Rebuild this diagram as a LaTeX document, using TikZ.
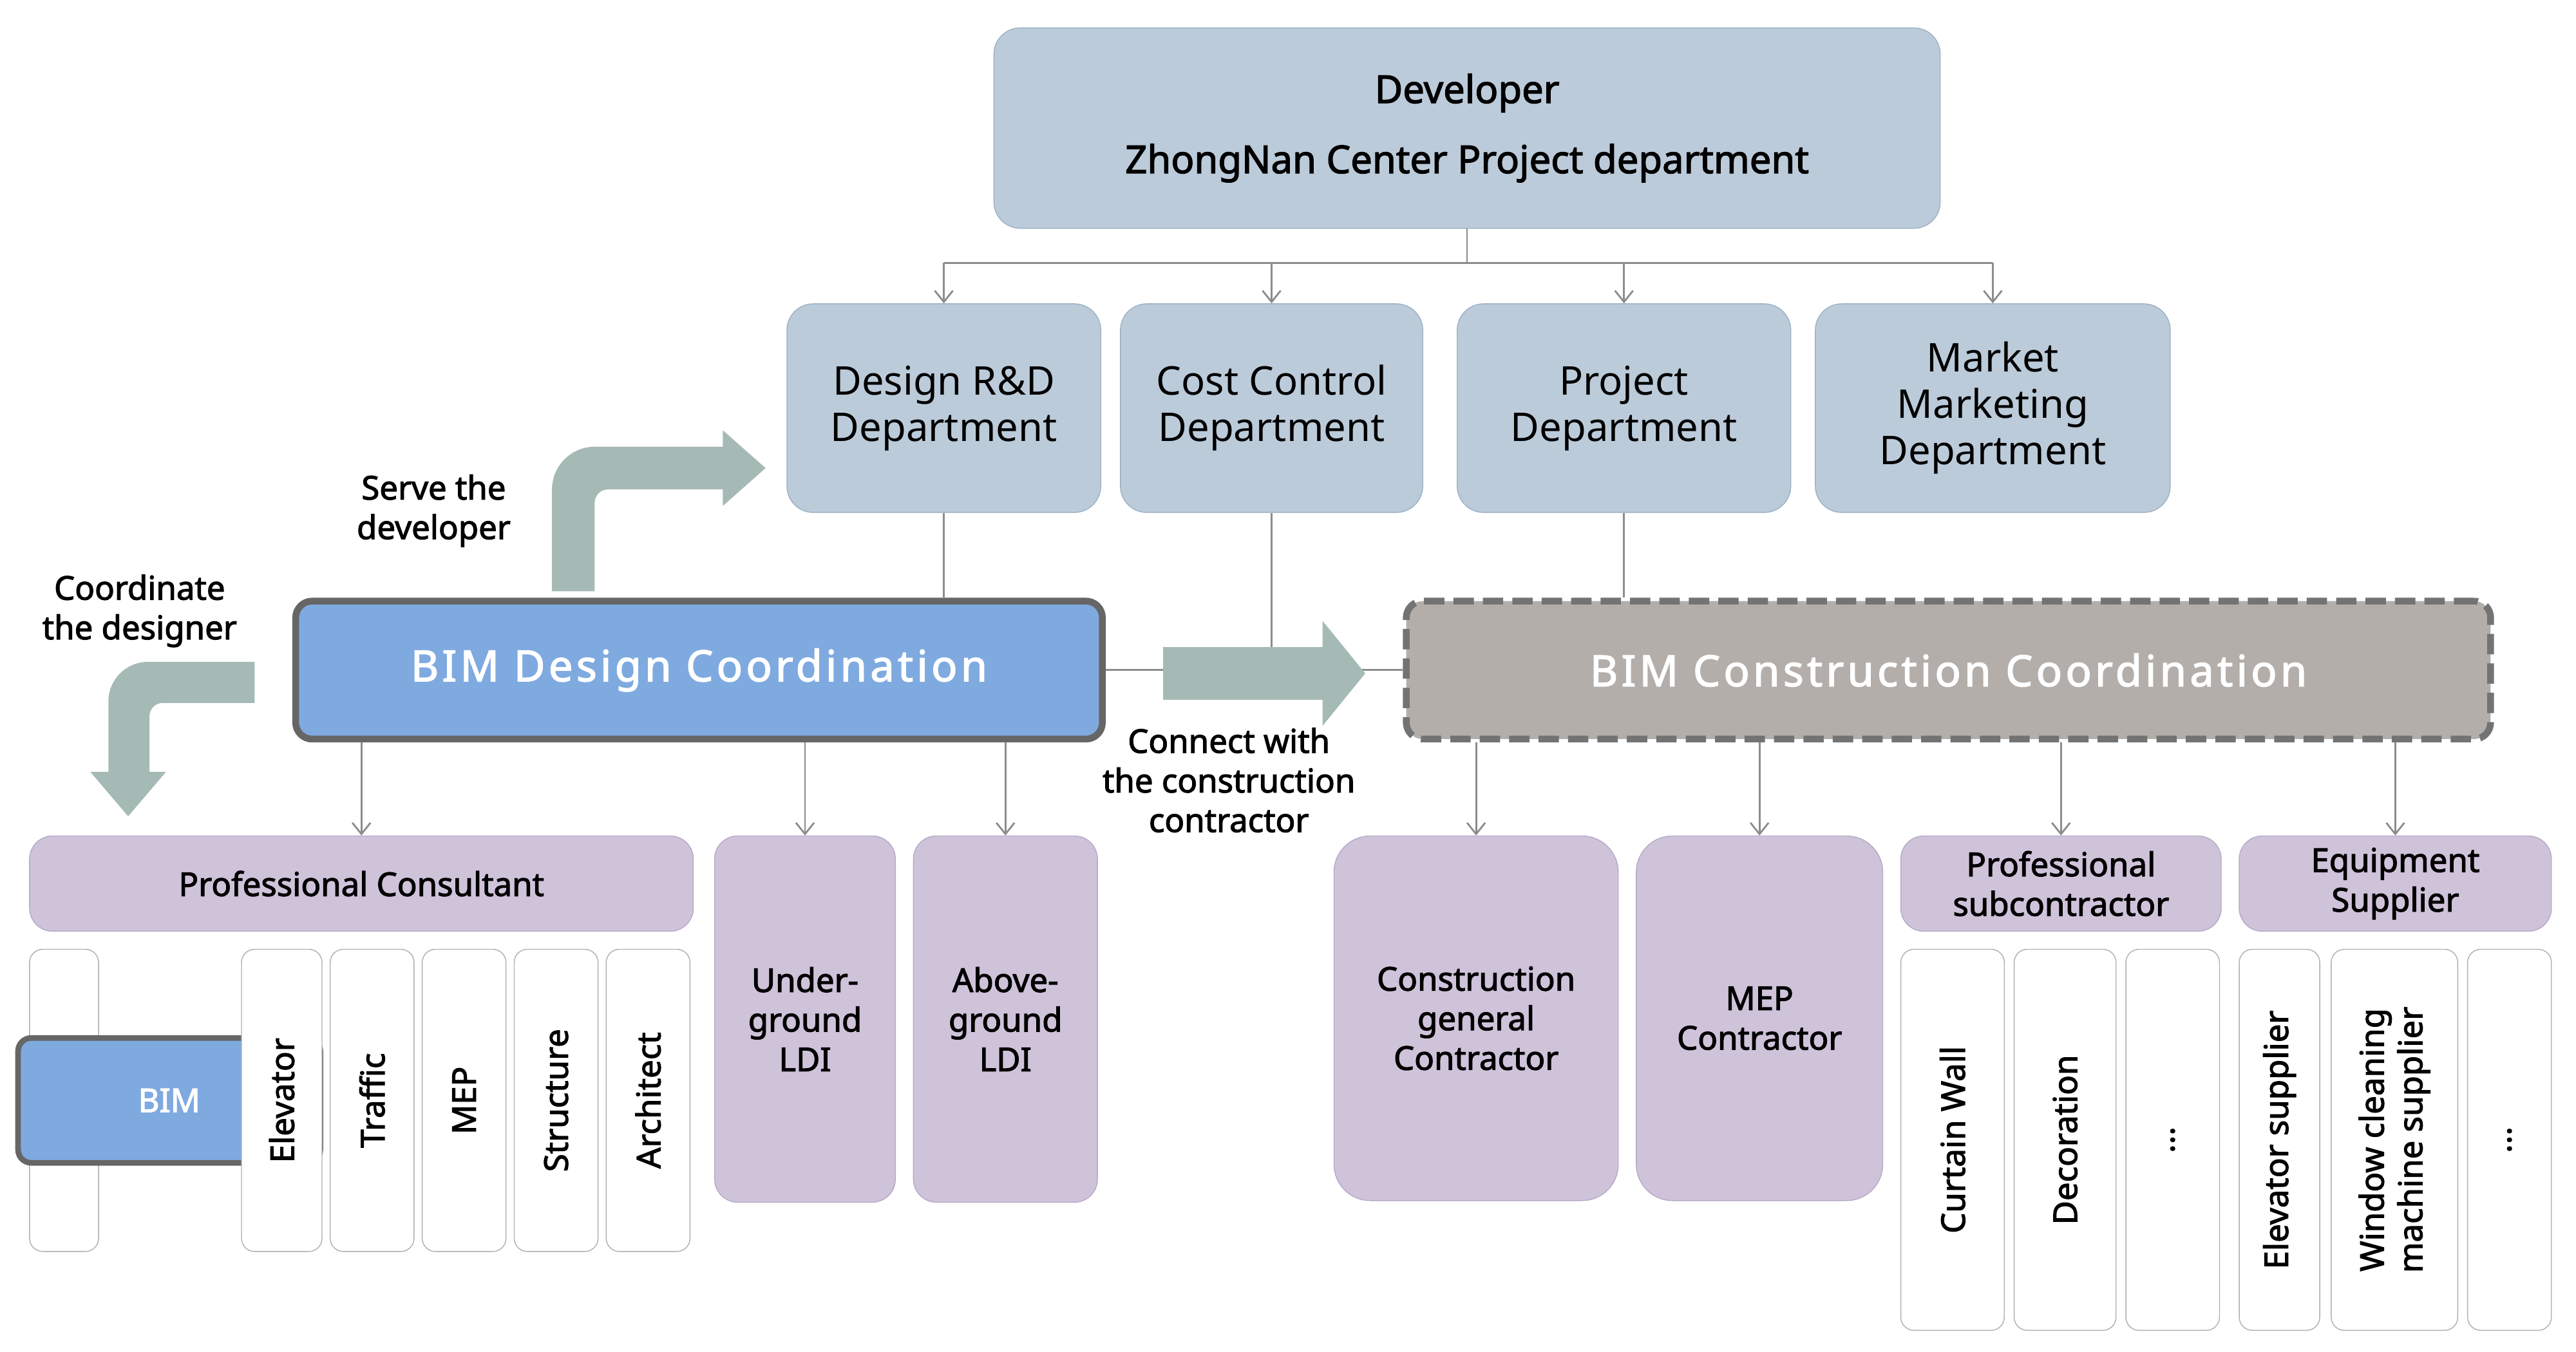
\documentclass[tikz,border=0pt]{standalone}
\usepackage{fontspec}
\setmainfont{Noto Sans}[BoldFont={Noto Sans}, BoldFeatures={FakeBold=2.2}]
\usetikzlibrary{arrows.meta}
\newdimen\pxu \pxu=0.02551cm
\definecolor{devfill}{HTML}{BCCBDA}
\definecolor{devline}{HTML}{9DB0C4}
\definecolor{bimblue}{HTML}{7FAAE0}
\definecolor{bimgray}{HTML}{B4AEAA}
\definecolor{purp}{HTML}{CFC3DA}
\definecolor{purpline}{HTML}{B6A9C6}
\definecolor{arrowg}{HTML}{A6BAB5}
\definecolor{conn}{HTML}{8C8C8C}
\begin{document}
\begin{tikzpicture}[x=\pxu, y=-\pxu,
  dev/.style={draw=devline, fill=devfill, rounded corners=16\pxu, align=center, inner sep=0pt},
  main/.style={rounded corners=10\pxu, line width=3pt, align=center, text=white, inner sep=0pt,
    font=\fontsize{19}{23}\selectfont\bfseries\addfontfeatures{LetterSpace=8}},
  grp/.style={draw=purpline, fill=purp, rounded corners=14\pxu, align=center, inner sep=0pt,
    font=\fontsize{14.5}{17.5}\selectfont\bfseries},
  sub/.style={draw=conn!70, fill=white, rounded corners=8\pxu, inner sep=0pt, rotate=90,
    align=center, font=\fontsize{14.5}{17}\selectfont\bfseries},
  link/.style={draw=conn, line width=0.8pt},
  arr/.style={link, ->, >={Straight Barb[length=5pt,width=8pt]}},
  note/.style={align=center, font=\fontsize{14.5}{17.5}\selectfont\bfseries},
  big/.style={fill=arrowg}]
\useasboundingbox (0,0) rectangle (1568,823);
% top
\node[dev, minimum width=576\pxu, minimum height=122\pxu, font=\fontsize{17}{31}\selectfont\bfseries]
  (devel) at (893,78) {Developer\\ZhongNan Center Project department};
\begin{scope}[every node/.style={dev, minimum height=127\pxu, font=\fontsize{17.5}{20.5}\selectfont}]
\node[minimum width=191\pxu] (rd) at (574.5,248.5) {Design R\&D\\Department};
\node[minimum width=184\pxu] (cost) at (774,248.5) {Cost Control\\Department};
\node[minimum width=203\pxu] (proj) at (988.5,248.5) {Project\\Department};
\node[minimum width=216\pxu] (mkt) at (1213,248.5) {Market\\Marketing\\Department};
\end{scope}
\coordinate (split) at (893,160);
\draw[link] (devel.south) -- (split);
\draw[link] (rd.north |- split) -- (mkt.north |- split);
\foreach \d in {rd,cost,proj,mkt} \draw[arr] (\d.north |- split) -- (\d.north);
% coordination
\node[main, draw=black!60, fill=bimblue, minimum width=491\pxu, minimum height=84\pxu] (bimd) at (425.5,408) {BIM Design Coordination};
\node[main, draw=black!55, dashed, dash pattern=on 9pt off 4pt, fill=bimgray, minimum width=660\pxu, minimum height=84\pxu] (bimc) at (1186,408) {BIM Construction Coordination};
\draw[link] (rd.south) -- (rd.south |- bimd.north);
\draw[link] (proj.south) -- (proj.south |- bimc.north);
\coordinate (costend) at (774,400);
\draw[link] (cost.south) -- (costend);
\draw[link] (bimd.east) -- (bimc.west);
% big arrows
\fill[big] (708,394) -- (805,394) -- (805,378) -- (831,410) -- (805,442) -- (805,426) -- (708,426) -- cycle;
\fill[big] (336,360) [rounded corners=26\pxu]-- (336,272) [sharp corners]-- (440,272) -- (440,262) -- (466,285) -- (440,308) -- (440,298) [rounded corners=8\pxu]-- (362,298) [sharp corners]-- (362,360) -- cycle;
\fill[big] (155,403) [rounded corners=24\pxu]-- (66,403) [sharp corners]-- (66,470) -- (55,470) -- (78,497) -- (101,470) -- (91,470) [rounded corners=8\pxu]-- (91,428) [sharp corners]-- (155,428) -- cycle;
\node[note] (n1) at (264,311) {Serve the\\developer};
\node[note] (n2) at (85,372) {Coordinate\\the designer};
\node[note] (n3) at (748,475) {Connect with\\the construction\\contractor};
% design side groups
\node[grp, minimum width=404\pxu, minimum height=58\pxu] (pc) at (220,538) {Professional Consultant};
\node[grp, minimum width=110\pxu, minimum height=223\pxu] (ug) at (490,620.5) {Under-\\ground\\LDI};
\node[grp, minimum width=112\pxu, minimum height=223\pxu] (ag) at (612,620.5) {Above-\\ground\\LDI};
\draw[arr] (bimd.south -| pc) -- (pc.north);
\draw[arr] (bimd.south -| ug) -- (ug.north);
\draw[arr] (bimd.south -| ag) -- (ag.north);
\begin{scope}[every node/.append style={minimum width=184\pxu}]
\node[sub, minimum height=42\pxu] (c0) at (39,670) {...};
\node[sub, minimum height=76\pxu, fill=bimblue, draw=black!60, line width=2.5pt, text=white, rotate=-90] (c1) at (103,670) {BIM};
\node[sub, minimum height=49\pxu] (c2) at (171.5,670) {Elevator};
\node[sub, minimum height=51\pxu] (c3) at (226.5,670) {Traffic};
\node[sub, minimum height=51\pxu] (c4) at (282.5,670) {MEP};
\node[sub, minimum height=51\pxu] (c5) at (338.5,670) {Structure};
\node[sub, minimum height=51\pxu] (c6) at (394.5,670) {Architect};
\end{scope}
% construction side groups
\node[grp, minimum width=173\pxu, minimum height=222\pxu, rounded corners=22\pxu] (gc) at (898.5,620) {Construction\\general\\Contractor};
\node[grp, minimum width=150\pxu, minimum height=222\pxu, rounded corners=22\pxu] (mep) at (1071,620) {MEP\\Contractor};
\node[grp, minimum width=195\pxu, minimum height=58\pxu] (ps) at (1254.5,538) {Professional\\subcontractor};
\node[grp, minimum width=190\pxu, minimum height=58\pxu] (es) at (1458,538) {Equipment\\Supplier};
\draw[arr] (bimc.south -| gc) -- (gc.north);
\draw[arr] (bimc.south -| mep) -- (mep.north);
\draw[arr] (bimc.south -| ps) -- (ps.north);
\draw[arr] (bimc.south -| es) -- (es.north);
\begin{scope}[every node/.append style={minimum width=232\pxu}]
\node[sub, minimum height=63\pxu] (s0) at (1188.5,694) {Curtain Wall};
\node[sub, minimum height=62\pxu] (s1) at (1257,694) {Decoration};
\node[sub, minimum height=57\pxu] (s2) at (1322.5,694) {...};
\node[sub, minimum height=49\pxu] (s3) at (1387.5,694) {Elevator supplier};
\node[sub, minimum height=77\pxu] (s4) at (1457.5,694) {Window cleaning\\machine supplier};
\node[sub, minimum height=51\pxu] (s5) at (1527.5,694) {...};
\end{scope}
\end{tikzpicture}
\end{document}
